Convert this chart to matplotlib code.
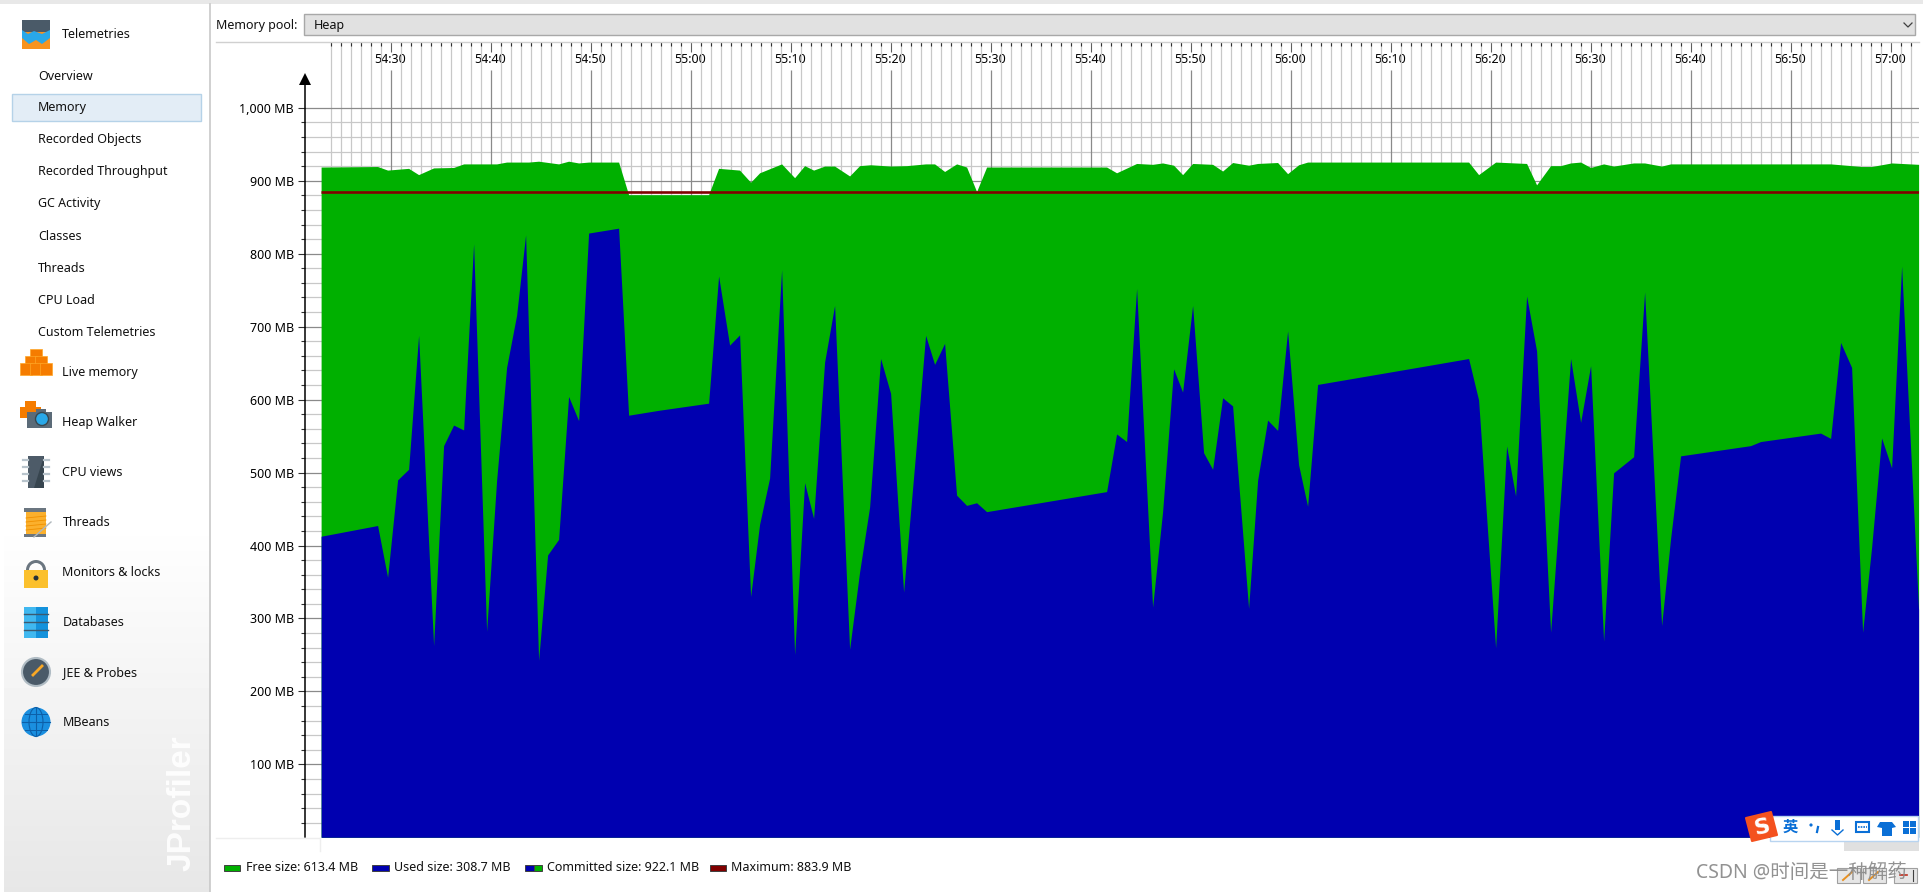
import numpy as np
import matplotlib
matplotlib.use('Agg')
import matplotlib.pyplot as plt
from matplotlib.patches import Rectangle, Circle, Polygon, Wedge, Ellipse
from matplotlib.ticker import FuncFormatter

plt.rcParams['font.family'] = ['Noto Sans', 'Noto Sans CJK SC', 'DejaVu Sans']

# seconds after 54:00
used_time = [23.05, 28.7, 29.7, 30.7, 31.8, 32.8, 34.3, 35.3, 36.3, 37.3, 38.3, 39.6, 40.6,
             41.6, 42.6, 43.5, 44.8, 45.7, 46.8, 47.8, 48.8, 49.8, 52.8, 53.8, 56.8, 61.8,
             62.8, 63.9, 64.9, 66.0, 66.9, 67.9, 69.1, 70.4, 71.4, 72.3, 73.4, 74.4, 75.9, 76.9,
             77.9, 79.0, 80.0, 81.3, 82.5, 83.5, 84.4, 85.4, 86.6, 87.6, 88.6, 89.6, 101.6,
             102.6, 103.6, 104.6, 106.2, 107.2, 108.3, 109.2, 110.2, 111.3, 112.2, 113.2, 114.2,
             115.8, 116.7, 117.7, 118.7, 119.7, 120.8, 121.7, 122.7, 132.9,
             137.8, 138.8, 140.5, 141.6, 142.5, 143.6, 144.6, 146.0, 148.0, 149.0, 150.0, 151.3,
             152.3, 154.3, 155.4, 157.1, 158.0, 159.0, 166.0, 167.0, 173.0, 174.0, 175.0, 176.1,
             177.2, 178.1, 179.1, 180.1, 181.1, 182.8]
used_mb = [412.7, 427.4, 356.4, 489.9, 504.5, 688.1, 262.8, 536.9, 565.1, 558.4, 813.6, 282.4, 489.2,
           644.1, 715.7, 825.8, 242.6, 387.0, 408.4, 604.3, 571.2, 828.3, 835.0, 578.6, 585.3, 595.1,
           769.5, 674.7, 688.7, 330.1, 429.2, 492.3, 778.1, 250.6, 486.2, 437.2, 651.4, 729.1, 257.9, 363.8,
           452.5, 656.3, 608.6, 336.2, 525.9, 688.1, 648.3, 677.1, 469.0, 455.0, 458.6, 446.4, 473.9,
           552.9, 542.5, 752.4, 315.6, 446.4, 642.2, 610.4, 729.1, 527.2, 504.5, 602.5, 591.4,
           313.8, 489.2, 571.9, 557.8, 694.2, 510.7, 453.7, 620.8, 644.7,
           656.3, 599.4, 259.7, 536.4, 467.8, 742.0, 666.7, 281.2, 656.3, 568.8, 646.5, 268.9,
           499.6, 521.7, 747.5, 290.3, 409.7, 522.9, 536.9, 542.5, 554.1, 546.8, 678.3, 644.1,
           281.2, 397.4, 547.4, 506.4, 783.0, 311.8]

committed_time = [23.05, 28.7, 29.7, 31.8, 32.8, 34.3, 36.3, 37.3, 40.6, 41.6, 43.8, 44.8, 46.8, 47.8,
                  48.8, 49.8, 52.8, 53.8, 61.8, 62.8, 64.9, 66.0, 66.9, 69.1, 70.4, 71.4, 72.3, 73.4,
                  74.4, 75.9, 76.9, 78.0, 80.0, 81.6, 83.5, 84.4, 85.4, 86.6, 87.6, 88.6, 89.6, 101.6,
                  102.6, 104.6, 106.2, 107.2, 108.3, 109.2, 110.2, 112.2, 113.2, 114.2, 115.8, 116.7,
                  118.7, 119.7, 120.8, 121.7, 132.9, 137.8, 138.8, 140.5, 143.6, 144.6, 146.0, 147.0,
                  148.0, 149.0, 150.0, 151.3, 152.3, 154.3, 155.4, 157.1, 158.0, 174.0, 177.1, 178.1,
                  180.1, 182.8]
committed_mb = [918.8, 919.5, 914.6, 917.0, 908.4, 917.6, 918.2, 923.1, 923.1, 925.6, 925.6, 926.8, 923.1, 926.8,
                924.4, 925.6, 925.6, 880.9, 880.9, 917.0, 914.6, 898.0, 910.9, 923.1, 904.2, 920.7, 914.6, 920.1,
                920.1, 906.6, 920.7, 921.9, 920.1, 920.7, 923.1, 923.1, 912.7, 923.1, 918.8, 885.2, 918.8, 918.8,
                910.9, 923.7, 922.5, 924.4, 921.3, 908.4, 923.7, 922.5, 913.3, 925.0, 921.3, 923.7,
                925.0, 909.7, 921.9, 925.6, 925.6, 925.6, 908.4, 925.6, 923.7, 894.4, 920.7, 920.7,
                924.4, 925.6, 918.2, 923.1, 920.1, 924.4, 924.4, 920.1, 923.1, 923.1, 919.5, 919.5,
                924.4, 922.5]
maximum_mb = 883.9

legend_labels = ['Free size: 613.4 MB', 'Used size: 308.7 MB', 'Committed size: 922.1 MB', 'Maximum: 883.9 MB']
sub_items = ['Overview', 'Memory', 'Recorded Objects', 'Recorded Throughput', 'GC Activity',
             'Classes', 'Threads', 'CPU Load', 'Custom Telemetries']
main_items = ['Live memory', 'Heap Walker', 'CPU views', 'Threads', 'Monitors & locks',
              'Databases', 'JEE & Probes', 'MBeans']

GREEN = '#00b000'
BLUE = '#0000b0'
DARKRED = '#800000'
W, H = 1923, 892


def fmt_time(s, pos=None):
    s = int(round(s))
    return f'{54 + s // 60}:{s % 60:02d}'


def fmt_mb(v, pos=None):
    return f'{int(v):,} MB'


fig = plt.figure(figsize=(W / 100, H / 100), dpi=100, facecolor='white')

# chart: 10 px per second, 0.7295 px per MB
ax = fig.add_axes([305 / W, 1 - 837.3 / H, (1919 - 305) / W, (837.3 - 42) / H], facecolor='none')
ax.set_xlim(21.44, 182.84)
ax.set_ylim(0, 1090.2)
ax.set_axisbelow(True)

ax.fill_between(committed_time, 0, committed_mb, color=GREEN, lw=0, zorder=2)
ax.fill_between(used_time, 0, used_mb, color=BLUE, lw=0, zorder=3)
ax.plot([23.05, 182.84], [maximum_mb, maximum_mb], color=DARKRED, lw=1.9, zorder=4, solid_capstyle='butt')

ax.set_yticks(np.arange(100, 1001, 100))
ax.set_yticks(np.arange(20, 1000, 20), minor=True)
ax.yaxis.set_major_formatter(FuncFormatter(fmt_mb))
ax.tick_params(axis='y', which='major', length=5, width=0.8, pad=3, labelsize=9, color='#303030')
ax.tick_params(axis='y', which='minor', length=3, width=0.8, color='#303030')
ax.grid(axis='y', which='major', color='#8a8a8a', lw=0.9)
ax.grid(axis='y', which='minor', color='#c8c8c8', lw=0.9)

major_secs = np.arange(30, 181, 10)
minor_secs = np.array([s for s in range(24, 183) if s % 10 != 0])
ax.xaxis.tick_top()
ax.set_xticks(major_secs)
ax.set_xticks(minor_secs, minor=True)
ax.xaxis.set_major_formatter(FuncFormatter(fmt_time))
ax.tick_params(axis='x', which='major', direction='in', length=7, width=0.8, color='#606060',
               pad=-17.5, labelsize=9)
ax.tick_params(axis='x', which='minor', direction='in', length=3, width=0.8, color='#303030')
ax.grid(axis='x', which='minor', color='#c8c8c8', lw=0.9)
ax.vlines(major_secs, 0, 1051.8, color='#8a8a8a', lw=0.9, zorder=1)

for name in ['top', 'right', 'bottom']:
    ax.spines[name].set_visible(False)
ax.spines['left'].set_bounds(0, 1032)
ax.spines['left'].set_linewidth(1.1)
ax.plot([0], [1040], marker='^', ms=8, color='black', transform=ax.get_yaxis_transform(),
        clip_on=False, zorder=6, mew=0)

# everything around the chart, in pixel coordinates
ui = fig.add_axes([0, 0, 1, 1], facecolor='none', zorder=5)
ui.axis('off')

gradient = np.concatenate([np.ones(520), np.linspace(1, 0.905, H - 520)]).reshape(-1, 1)
ui.imshow(gradient, extent=[4, 210, H, 0], cmap='gray', vmin=0, vmax=1, aspect='auto', zorder=0)
ui.set_xlim(0, W)
ui.set_ylim(H, 0)
ui.add_patch(Rectangle((0, 0), W, 3.5, color='#e8e8e8', lw=0))
ui.plot([210, 210], [4, H], color='#c8c8c8', lw=1.2)
ui.plot([216, 1919], [41.5, 41.5], color='#d0d0d0', lw=1)
ui.plot([216, 320], [837.5, 837.5], color='#eeeeee', lw=1)
ui.plot([320, 320], [837.5, 851], color='#eeeeee', lw=1)

ui.add_patch(Rectangle((304, 13.5), 1611, 21, fc='#e1e1e1', ec='#a8a8a8', lw=1))
ui.text(216, 25, 'Memory pool:', fontsize=9, va='center', color='#111111')
ui.text(314, 25, 'Heap', fontsize=9, va='center', color='#111111')
ui.plot([1904, 1908, 1912], [23, 27, 23], color='#404040', lw=0.9)

ui.add_patch(Rectangle((12, 93.5), 189, 27, fc='#e3edf6', ec='#b5d2e8', lw=1))
ui.text(62, 34, 'Telemetries', fontsize=9, va='center', color='#111111')
for i, label in enumerate(sub_items):
    ui.text(38, 76 + i * 32, label, fontsize=9, va='center', color='#111111')
for i, label in enumerate(main_items):
    ui.text(62.5, 372.7 + i * 50, label, fontsize=9, va='center', color='#111111')
ui.text(182, 803, 'JProfiler', fontsize=24, fontweight='bold', family='Liberation Sans', color='white',
        rotation=90, ha='center', va='center', alpha=0.9)

# sidebar icons
ui.add_patch(Rectangle((22, 20), 28, 29, fc='#f7931e', lw=0))
ui.add_patch(Rectangle((22, 20), 28, 12, fc='#4a5a68', lw=0))
ui.add_patch(Polygon([(22, 30), (28, 34), (34, 31), (42, 34), (50, 30), (50, 38), (42, 44), (36, 40), (29, 44), (22, 38)],
                     fc='#29a8e8', lw=0))
for cx, cy in [(36, 355), (31, 362), (41, 362), (26, 369), (36, 369), (46, 369)]:
    ui.add_patch(Rectangle((cx - 6, cy - 6), 12, 12, fc='#f57c00', ec='#ffa726', lw=0.5))
for cx, cy in [(30, 406), (25, 412), (35, 412)]:
    ui.add_patch(Rectangle((cx - 5.5, cy - 5.5), 11, 11, fc='#f57c00', lw=0))
ui.add_patch(Rectangle((27, 412), 25, 16, fc='#5b6b78', lw=0))
ui.add_patch(Rectangle((36, 409), 10, 4, fc='#5b6b78', lw=0))
ui.add_patch(Circle((42, 419), 6.5, fc='#29a8e8', ec='#37474f', lw=1))
ui.add_patch(Rectangle((28, 456), 16, 32, fc='#4d5b68', lw=0))
ui.add_patch(Polygon([(44, 456), (44, 488), (34, 488)], fc='#37454f', lw=0))
for py in [460, 467, 474, 481]:
    ui.plot([23, 28], [py, py], color='#b8c4cc', lw=1.6)
    ui.plot([44, 49], [py, py], color='#b8c4cc', lw=1.6)
ui.add_patch(Rectangle((26, 512), 20, 22, fc='#fbb02d', lw=0))
for py in [516, 520, 524, 528]:
    ui.plot([26, 46], [py + 2, py], color='#f09000', lw=0.6)
ui.add_patch(Rectangle((24, 508), 22, 4, fc='#6b7680', lw=0))
ui.add_patch(Rectangle((24, 534), 22, 3, fc='#6b7680', lw=0))
ui.plot([34, 51], [537, 522], color='#b0b8bd', lw=1)
ui.add_patch(Wedge((36, 570), 10, 180, 360, width=3, fc='#6b7680', lw=0))
ui.add_patch(Rectangle((24, 570), 24, 18, fc='#fbc02d', lw=0))
ui.add_patch(Circle((36, 578), 2.5, fc='#263238', lw=0))
ui.add_patch(Rectangle((24, 607), 24, 31, fc='#40b8f0', lw=0))
ui.add_patch(Rectangle((36, 607), 12, 31, fc='#1492dc', lw=0))
for py in [614, 622, 630]:
    ui.plot([24, 48], [py, py], color='#3c5a70', lw=1)
ui.add_patch(Circle((36, 672), 14, fc='#4a5a68', ec='#b0bcc4', lw=1.5))
ui.plot([33, 42], [675, 666], color='#f9a825', lw=2)
ui.add_patch(Circle((36, 722), 14.5, fc='#1a8fe0', lw=0))
ui.plot([22, 50], [722, 722], color='#0d5fa8', lw=0.8)
ui.plot([36, 36], [708, 736], color='#0d5fa8', lw=0.8)
for py in [714, 730]:
    ui.plot([25, 47], [py, py], color='#0d5fa8', lw=0.7)
ui.add_patch(Ellipse((36, 722), 14, 29, fc='none', ec='#0d5fa8', lw=0.8))

# legend row
ui.add_patch(Rectangle((224, 865), 16, 5.5, fc=GREEN, ec='#404040', lw=0.7))
ui.add_patch(Rectangle((372, 865), 17, 5.5, fc=BLUE, ec='#404040', lw=0.7))
ui.add_patch(Rectangle((525, 865), 8.5, 5.5, fc=BLUE, ec='#404040', lw=0.7))
ui.add_patch(Rectangle((533.5, 865), 8.5, 5.5, fc=GREEN, ec='#404040', lw=0.7))
ui.add_patch(Rectangle((710, 865), 16, 5.5, fc=DARKRED, ec='#404040', lw=0.7))
for x, label in zip([246, 394, 547, 731], legend_labels):
    ui.text(x, 867.5, label, fontsize=9, va='center', color='#111111')

# input method bar and site watermark, bottom right
ui.add_patch(Rectangle((1844, 841), 75, 10, fc='#e0e0e0', lw=0))
ui.add_patch(Rectangle((1770, 815.5), 148, 25, fc='white', ec='#b8d4f0', lw=1))
ui.add_patch(Polygon([(1746, 818), (1771, 812), (1777, 835), (1752, 841)], fc='#f4511e', ec='#f4511e', lw=1.5, joinstyle='round'))
ui.text(1761.5, 827, 'S', fontsize=16, fontweight='bold', family='DejaVu Sans', color='white', ha='center',
        va='center', rotation=12)
ui.text(1790, 828, '英', fontsize=11, fontweight='bold', color='#0a6fd6', ha='center', va='center')
ui.add_patch(Circle((1811, 825), 1.6, fc='#0a6fd6', lw=0))
ui.plot([1818, 1817], [827, 832], color='#0a6fd6', lw=1.6)
ui.add_patch(Rectangle((1835, 820), 5, 10, fc='#0a6fd6', lw=0))
ui.plot([1832, 1837.5, 1843], [830, 835, 830], color='#0a6fd6', lw=1)
ui.add_patch(Rectangle((1856, 822), 13, 10, fc='white', ec='#0a6fd6', lw=1.5))
ui.plot([1858, 1867], [827, 827], color='#0a6fd6', lw=1.2, ls=(0, (1, 0.6)))
ui.add_patch(Polygon([(1880, 822), (1892, 822), (1896, 827), (1892, 828), (1892, 836), (1882, 836), (1882, 828), (1877, 827)],
                     fc='#0a6fd6', lw=0))
for cx, cy in [(1906, 824), (1913, 824), (1906, 831), (1913, 831)]:
    ui.add_patch(Rectangle((cx - 2.8, cy - 2.8), 5.6, 5.6, fc='#0a6fd6', lw=0))
for x0 in [1837, 1863, 1894]:
    ui.add_patch(Rectangle((x0, 868), 23, 15, fc='#e6e6e6', ec='#a0a0a0', lw=0.8))
ui.plot([1843, 1852], [880, 872], color='#e89020', lw=1.4)
ui.plot([1869, 1878], [880, 872], color='#e89020', lw=1.4)
ui.plot([1900, 1907], [875, 875], color='#c03020', lw=1.2)
ui.plot([1913, 1913], [870, 881], color='#404040', lw=0.8)
ui.text(1696, 873, 'CSDN @时间是一种解药', fontsize=14, color='#8c8c8c', va='center', alpha=0.95)

fig.savefig('out.png', dpi=100)
